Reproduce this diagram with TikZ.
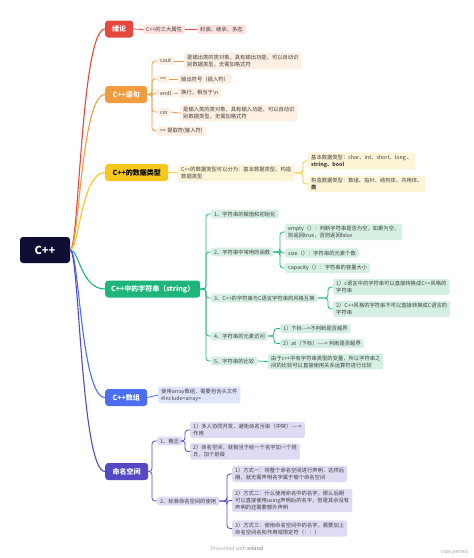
\documentclass[tikz,border=0pt]{standalone}
\usepackage{fontspec}
\setmainfont{Noto Sans CJK SC}
\definecolor{rootc}{HTML}{0E0E33}
\definecolor{redc}{HTML}{E5483F}\definecolor{redl}{HTML}{FCE1DF}
\definecolor{orac}{HTML}{F39B3F}\definecolor{oral}{HTML}{FDEFE2}
\definecolor{yelc}{HTML}{F6C71C}\definecolor{yell}{HTML}{FDF4D6}
\definecolor{grec}{HTML}{1FB57A}\definecolor{grel}{HTML}{D5F0E3}
\definecolor{bluc}{HTML}{4C6EF0}\definecolor{blul}{HTML}{DFE4FB}
\definecolor{purc}{HTML}{554AC4}\definecolor{purl}{HTML}{DEDCF3}
\begin{document}
\begin{tikzpicture}[x=1pt,y=-1pt,
  rootbox/.style={fill=rootc,text=white,rounded corners=3pt,minimum width=50pt,minimum height=26pt,font=\fontsize{11}{12}\selectfont\bfseries},
  mainbox/.style={rounded corners=3pt,minimum height=17pt,inner xsep=4pt,font=\fontsize{7}{8}\selectfont\bfseries,anchor=west},
  leaf/.style={rounded corners=2pt,inner xsep=3pt,inner ysep=2pt,font=\fontsize{5.3}{7}\selectfont,anchor=west,align=left,text=black!75},
  rootln/.style={line width=1.1pt},
  ln/.style={line width=0.8pt,rounded corners=3pt}]
\fill[white] (0,0) rectangle (474,558);
\useasboundingbox (0,0) rectangle (474,558);

% root
\node[rootbox] (root) at (45,250) {C++};

% main branches
\node[mainbox,fill=redc,text=white,minimum width=28pt] (m1) at (105,29) {绪论};
\node[mainbox,fill=orac,text=white,minimum width=42pt] (m2) at (105,94.5) {C++语句};
\node[mainbox,fill=yelc,text=black,minimum width=63pt] (m3) at (105,172.5) {C++的数据类型};
\node[mainbox,fill=grec,text=white,minimum width=95pt] (m4) at (105,289) {C++中的字符串（string）};
\node[mainbox,fill=bluc,text=white,minimum width=42pt] (m5) at (105,397.5) {C++数组};
\node[mainbox,fill=purc,text=white,minimum width=43pt] (m6) at (105,471.5) {命名空间};

\draw[rootln,redc] (root.east) .. controls +(9,0) and +(-24,0) .. (m1.west);
\draw[rootln,orac] (root.east) .. controls +(9,0) and +(-24,0) .. (m2.west);
\draw[rootln,yelc] (root.east) .. controls +(9,0) and +(-24,0) .. (m3.west);
\draw[rootln,grec] (root.east) .. controls +(9,0) and +(-24,0) .. (m4.west);
\draw[rootln,bluc] (root.east) .. controls +(9,0) and +(-24,0) .. (m5.west);
\draw[rootln,purc] (root.east) .. controls +(9,0) and +(-24,0) .. (m6.west);

% 绪论
\node[leaf,fill=redl] (a1) at (143,29.5) {C++的三大属性};
\node[leaf,fill=redl] (a2) at (197,29.5) {封装、继承、多态};
\draw[ln,redc] (m1.east) -- (a1.west);
\draw[ln,redc] (a1.east) -- (a2.west);

% C++语句
\coordinate (tb) at (152,0);
\node[leaf,fill=oral] (b1) at (157,61) {cout};
\node[leaf,fill=oral] (b1d) at (184,61) {是输出类的类对象，具有输出功能，可以自动识\\别数据类型，无需加格式符};
\node[leaf,fill=oral] (b2) at (157,79) {<{}<};
\node[leaf,fill=oral] (b2d) at (178,79) {输出符号（插入符）};
\node[leaf,fill=oral] (b3) at (157,93) {endl};
\node[leaf,fill=oral] (b3d) at (178,93) {换行，相当于\textbackslash n};
\node[leaf,fill=oral] (b4) at (157,112) {cin};
\node[leaf,fill=oral] (b4d) at (180,113) {是输入类的类对象，具有输入功能，可以自动识\\别数据类型，无需加格式符};
\node[leaf,fill=oral] (b5) at (157,131) {>{}> 提取符(输入符)};
\foreach \c in {b1,b2,b3,b4,b5} \draw[ln,orac] (m2.east) -- (m2.east -| tb) |- (\c.west);
\draw[ln,orac] (b1.east) -- (b1d.west);
\draw[ln,orac] (b2.east) -- (b2d.west);
\draw[ln,orac] (b3.east) -- (b3d.west);
\draw[ln,orac] (b4.east) -- (b4d.west);

% 数据类型
\coordinate (tc) at (303,0);
\node[leaf,fill=yell] (c1) at (178,173) {C++的数据类型可以分为：基本数据类型、构造\\数据类型};
\node[leaf,fill=yell] (c2) at (308,161) {基本数据类型：char、int、short、long 、\\\textbf{string、bool}};
\node[leaf,fill=yell] (c3) at (308,184) {构造数据类型：数组、指针、结构体、共用体、\\\textbf{类}};
\draw[ln,yelc] (m3.east) -- (c1.west);
\foreach \c in {c2,c3} \draw[ln,yelc] (c1.east) -- (c1.east -| tc) |- (\c.west);

% string
\coordinate (td) at (206,0);
\node[leaf,fill=grel] (d1) at (211,214) {1、字符串的赋值和初始化};
\node[leaf,fill=grel] (d2) at (211,252) {2、字符串中常用的函数};
\node[leaf,fill=grel] (d3) at (211,298) {3、C++的字符串与C语言字符串的风格互换};
\node[leaf,fill=grel] (d4) at (211,336) {4、字符串的元素访问};
\node[leaf,fill=grel] (d5) at (211,361) {5、字符串的比较};
\foreach \c in {d1,d2,d3,d4,d5} \draw[ln,grec] (m4.east) -- (m4.east -| td) |- (\c.west);
\coordinate (td2) at (280,0);
\node[leaf,fill=grel] (d21) at (285,232) {empty（）：判断字符串是否为空，如果为空，\\则返回true，否则返回false};
\node[leaf,fill=grel] (d22) at (285,253) {size（）：字符串的元素个数};
\node[leaf,fill=grel] (d23) at (285,268) {capacity（）：字符串的容量大小};
\foreach \c in {d21,d22,d23} \draw[ln,grec] (d2.east) -- (d2.east -| td2) |- (\c.west);
\coordinate (td3) at (328,0);
\node[leaf,fill=grel] (d31) at (333,287) {1）c语言中的字符串可以直接转换成C++风格的\\字符串};
\node[leaf,fill=grel] (d32) at (333,309) {2）C++风格的字符串不可以直接转换成C语言的\\字符串};
\foreach \c in {d31,d32} \draw[ln,grec] (d3.east) -- (d3.east -| td3) |- (\c.west);
\coordinate (td4) at (274,0);
\node[leaf,fill=grel] (d41) at (280,328.5) {1）下标{-}{-}{-}>不判断是否越界};
\node[leaf,fill=grel] (d42) at (280,343.5) {2）at（下标）{-}{-}{-}{-}> 判断是否越界};
\foreach \c in {d41,d42} \draw[ln,grec] (d4.east) -- (d4.east -| td4) |- (\c.west);
\node[leaf,fill=grel] (d51) at (268,361.5) {由于c++中有字符串类型的变量，所以字符串之\\间的比较可以直接使用关系运算符进行比较};
\draw[ln,grec] (d5.east) -- (d51.west);

% 数组
\node[leaf,fill=blul] (e1) at (158,395) {使用array数组，需要包含头文件\\\#include<array>};
\draw[ln,bluc] (m5.east) -- (e1.west);

% 命名空间
\coordinate (tf) at (152,0);
\node[leaf,fill=purl] (f1) at (157,441) {1、概念};
\node[leaf,fill=purl] (f2) at (157,501) {2、标准命名空间的使用};
\foreach \c in {f1,f2} \draw[ln,purc] (m6.east) -- (m6.east -| tf) |- (\c.west);
\coordinate (tf1) at (185,0);
\node[leaf,fill=purl] (f11) at (190,430) {1）多人协同开发，避免命名污染（冲突）{-}{-}{-}{-}>\\作用};
\node[leaf,fill=purl] (f12) at (190,451.5) {2）命名空间，就相当于给一个名字加一个姓\\氏，加个前缀};
\foreach \c in {f11,f12} \draw[ln,purc] (f1.east) -- (f1.east -| tf1) |- (\c.west);
\coordinate (tf2) at (227,0);
\node[leaf,fill=purl] (f21) at (232,474) {1）方式一：将整个命名空间进行声明，这样后\\期，就无需声明名字属于哪个命名空间};
\node[leaf,fill=purl] (f22) at (232,500.5) {2）方式二：什么使用命名中的名字，那么后期\\可以直接使用using声明后的名字，但是其余没有\\声明的还需要额外声明};
\node[leaf,fill=purl] (f23) at (232,528.5) {3）方式三：使用命名空间中的名字，需要加上\\命名空间名和作用域限定符（：：）};
\foreach \c in {f21,f22,f23} \draw[ln,purc] (f2.east) -- (f2.east -| tf2) |- (\c.west);

% footer
\node[font=\fontsize{5}{6}\selectfont,text=black!35] (pw) at (237,548) {Presented with \textbf{xmind}};
\node[font=\fontsize{4}{5}\selectfont,text=black!40,anchor=east] (csdn) at (472,552) {CSDN @WTRUI};
\end{tikzpicture}
\end{document}
